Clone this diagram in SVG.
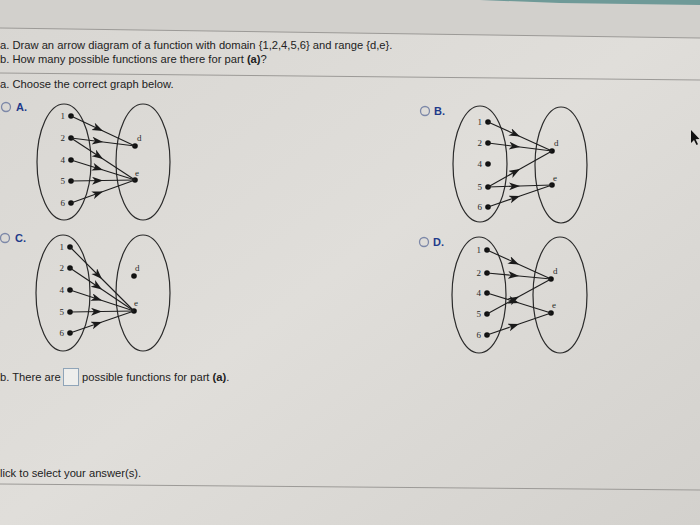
<svg xmlns="http://www.w3.org/2000/svg" width="700" height="525" viewBox="0 0 700 525">
<defs>
<marker id="ah" markerUnits="userSpaceOnUse" markerWidth="13" markerHeight="9" refX="11" refY="4" orient="auto">
<path d="M0,0 L11,4 L0,8 L3,4 z" fill="#1a1a1a"/>
</marker>
<linearGradient id="bg" x1="0" y1="0" x2="1" y2="1">
<stop offset="0" stop-color="#d8d6d2"/>
<stop offset="0.5" stop-color="#e0deda"/>
<stop offset="1" stop-color="#d3d1cd"/>
</linearGradient>
</defs>
<style>
.t{font-family:"Liberation Sans",Arial,sans-serif;font-size:11.2px;fill:#222}
.b{font-weight:bold}
.opt{font-family:"Liberation Sans",Arial,sans-serif;font-size:11px;font-weight:bold;fill:#1f3a8a}
.radio{fill:none;stroke:#7d88a8;stroke-width:1.3}
.ell{fill:none;stroke:#2a2a2a;stroke-width:1.2}
.dot{fill:#111}
.lbl{font-family:"Liberation Serif","Times New Roman",serif;font-size:9px;fill:#2a2a2a}
.arr{fill:none;stroke:#1e1e1e;stroke-width:1.1;marker-mid:url(#ah)}
.rule{stroke:#9c9a97;stroke-width:1}
</style>
<rect x="0" y="0" width="700" height="525" fill="url(#bg)"/>
<polygon points="0,0 700,0 700,38 0,28" fill="#d2d0cc"/>
<polygon points="480,0 700,0 700,5 560,3" fill="#6f9a98"/>
<line class="rule" x1="0" y1="28" x2="700" y2="38"/>
<line class="rule" x1="0" y1="73" x2="700" y2="80"/>
<line class="rule" x1="0" y1="484" x2="700" y2="490"/>

<text class="t" x="0" y="49">a. Draw an arrow diagram of a function with domain {1,2,4,5,6} and range {d,e}.</text>
<text class="t" x="0" y="63">b. How many possible functions are there for part <tspan class="b">(a)</tspan>?</text>
<text class="t" x="0" y="88">a. Choose the correct graph below.</text>

<g id="optA">
<circle class="radio" cx="6" cy="107" r="4.5"/>
<text class="opt" x="16" y="111">A.</text>
</g>
<g id="optB">
<circle class="radio" cx="425" cy="111" r="4.5"/>
<text class="opt" x="434" y="115">B.</text>
</g>
<g id="optC">
<circle class="radio" cx="5" cy="238" r="4.5"/>
<text class="opt" x="15" y="242">C.</text>
</g>
<g id="optD">
<circle class="radio" cx="424" cy="242" r="4.5"/>
<text class="opt" x="433" y="246">D.</text>
</g>

<!-- Diagram A -->
<g id="A-sets"><ellipse class="ell" cx="64" cy="162" rx="27" ry="58"/><ellipse class="ell" cx="143" cy="162" rx="27" ry="58"/></g>
<g id="A-1"><circle class="dot" cx="71" cy="116" r="2.8"/><text class="lbl" x="65" y="119" text-anchor="end">1</text></g>
<g id="A-2"><circle class="dot" cx="71" cy="138" r="2.8"/><text class="lbl" x="65" y="141" text-anchor="end">2</text></g>
<g id="A-4"><circle class="dot" cx="71" cy="160" r="2.8"/><text class="lbl" x="65" y="163" text-anchor="end">4</text></g>
<g id="A-5"><circle class="dot" cx="71" cy="181" r="2.8"/><text class="lbl" x="65" y="184" text-anchor="end">5</text></g>
<g id="A-6"><circle class="dot" cx="71" cy="203" r="2.8"/><text class="lbl" x="65" y="206" text-anchor="end">6</text></g>
<g id="A-d"><circle class="dot" cx="135" cy="146" r="2.8"/><text class="lbl" x="137" y="141">d</text></g>
<g id="A-e"><circle class="dot" cx="135" cy="180" r="2.8"/><text class="lbl" x="135" y="176">e</text></g>
<g id="A-connectors">
<polyline class="arr" points="71,116 103,131 135,146"/>
<polyline class="arr" points="71,138 103,142 135,146"/>
<polyline class="arr" points="71,138 103,159 135,180"/>
<polyline class="arr" points="71,160 103,170 135,180"/>
<polyline class="arr" points="71,181 103,180.5 135,180"/>
<polyline class="arr" points="71,203 103,191.5 135,180"/>
</g>

<!-- Diagram B -->
<g id="B-sets"><ellipse class="ell" cx="480" cy="164" rx="27" ry="58"/><ellipse class="ell" cx="561" cy="165" rx="26" ry="58"/></g>
<g id="B-1"><circle class="dot" cx="488" cy="122" r="2.8"/><text class="lbl" x="482" y="125" text-anchor="end">1</text></g>
<g id="B-2"><circle class="dot" cx="488" cy="143" r="2.8"/><text class="lbl" x="482" y="146" text-anchor="end">2</text></g>
<g id="B-4"><circle class="dot" cx="488" cy="164" r="2.8"/><text class="lbl" x="482" y="167" text-anchor="end">4</text></g>
<g id="B-5"><circle class="dot" cx="488" cy="187" r="2.8"/><text class="lbl" x="482" y="190" text-anchor="end">5</text></g>
<g id="B-6"><circle class="dot" cx="488" cy="207" r="2.8"/><text class="lbl" x="482" y="210" text-anchor="end">6</text></g>
<g id="B-d"><circle class="dot" cx="552" cy="151" r="2.8"/><text class="lbl" x="554" y="146">d</text></g>
<g id="B-e"><circle class="dot" cx="552" cy="185" r="2.8"/><text class="lbl" x="553" y="181">e</text></g>
<g id="B-connectors">
<polyline class="arr" points="488,122 520,136.5 552,151"/>
<polyline class="arr" points="488,143 520,147 552,151"/>
<polyline class="arr" points="488,187 520,169 552,151"/>
<polyline class="arr" points="488,187 520,186 552,185"/>
<polyline class="arr" points="488,207 520,196 552,185"/>
</g>

<!-- Diagram C -->
<g id="C-sets"><ellipse class="ell" cx="63" cy="293" rx="27" ry="58"/><ellipse class="ell" cx="143" cy="293" rx="27" ry="58"/></g>
<g id="C-1"><circle class="dot" cx="70" cy="247" r="2.8"/><text class="lbl" x="64" y="250" text-anchor="end">1</text></g>
<g id="C-2"><circle class="dot" cx="70" cy="268" r="2.8"/><text class="lbl" x="64" y="271" text-anchor="end">2</text></g>
<g id="C-4"><circle class="dot" cx="70" cy="290" r="2.8"/><text class="lbl" x="64" y="293" text-anchor="end">4</text></g>
<g id="C-5"><circle class="dot" cx="70" cy="312" r="2.8"/><text class="lbl" x="64" y="315" text-anchor="end">5</text></g>
<g id="C-6"><circle class="dot" cx="70" cy="333" r="2.8"/><text class="lbl" x="64" y="336" text-anchor="end">6</text></g>
<g id="C-d"><circle class="dot" cx="134" cy="276" r="2.8"/><text class="lbl" x="135" y="271">d</text></g>
<g id="C-e"><circle class="dot" cx="134" cy="311" r="2.8"/><text class="lbl" x="134" y="306">e</text></g>
<g id="C-connectors">
<polyline class="arr" points="70,247 102,279 134,311"/>
<polyline class="arr" points="70,268 102,289.5 134,311"/>
<polyline class="arr" points="70,290 102,300.5 134,311"/>
<polyline class="arr" points="70,312 102,311.5 134,311"/>
<polyline class="arr" points="70,333 102,322 134,311"/>
</g>

<!-- Diagram D -->
<g id="D-sets"><ellipse class="ell" cx="479" cy="295" rx="27" ry="58"/><ellipse class="ell" cx="560" cy="295" rx="27" ry="58"/></g>
<g id="D-1"><circle class="dot" cx="487" cy="250" r="2.8"/><text class="lbl" x="481" y="253" text-anchor="end">1</text></g>
<g id="D-2"><circle class="dot" cx="487" cy="273" r="2.8"/><text class="lbl" x="481" y="276" text-anchor="end">2</text></g>
<g id="D-4"><circle class="dot" cx="487" cy="293" r="2.8"/><text class="lbl" x="481" y="296" text-anchor="end">4</text></g>
<g id="D-5"><circle class="dot" cx="487" cy="314" r="2.8"/><text class="lbl" x="481" y="317" text-anchor="end">5</text></g>
<g id="D-6"><circle class="dot" cx="487" cy="335" r="2.8"/><text class="lbl" x="481" y="338" text-anchor="end">6</text></g>
<g id="D-d"><circle class="dot" cx="551" cy="279" r="2.8"/><text class="lbl" x="553" y="274">d</text></g>
<g id="D-e"><circle class="dot" cx="551" cy="313" r="2.8"/><text class="lbl" x="552" y="308">e</text></g>
<g id="D-connectors">
<polyline class="arr" points="487,250 519,264.5 551,279"/>
<polyline class="arr" points="487,273 519,276 551,279"/>
<polyline class="arr" points="487,314 519,296.5 551,279"/>
<polyline class="arr" points="487,293 519,303 551,313"/>
<polyline class="arr" points="487,335 519,324 551,313"/>
</g>

<text class="t" x="0" y="381">b. There are</text>
<rect x="63.5" y="368.5" width="15" height="17" fill="#eeeeec" stroke="#8fa4b8" stroke-width="1"/>
<text class="t" x="82" y="381">possible functions for part <tspan class="b">(a)</tspan>.</text>

<text class="t" x="0" y="477">lick to select your answer(s).</text>

<polygon points="691,130 691,143 694,140 696.5,145 698,144.3 695.6,139.3 699.5,139" fill="#111"/>
</svg>
